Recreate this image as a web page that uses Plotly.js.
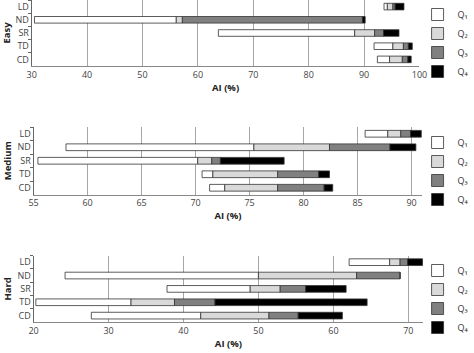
<!DOCTYPE html>
<html><head><meta charset="utf-8">
<script src="https://cdn.plot.ly/plotly-3.0.1.min.js"></script>
<style>html,body{margin:0;padding:0;background:#fff}#chart{width:474px;height:353px}</style>
</head><body><div id="chart"></div>
<script>
const categories = ['LD','ND','SR','TD','CD'];
const panels = ['Easy','Medium','Hard'];
const quartileNames = ['Q\u2081','Q\u2082','Q\u2083','Q\u2084'];
const quartileColors = ['#ffffff','#d9d9d9','#808080','#000000'];
const xTickStep = [10, 5, 10];
const xRanges = [[30, 100], [55, 91], [20, 72]];

// five-number bounds per category (LD, ND, SR, TD, CD): min, Q1, median, Q3, max
const easyMin = [93.6, 30.5, 63.7, 91.8, 92.4];
const easyQ1  = [94.2, 56.1, 88.3, 95.2, 94.6];
const easyMed = [95.2, 57.2, 91.9, 97.1, 96.9];
const easyQ3  = [95.6, 89.7, 93.5, 98.0, 97.9];
const easyMax = [97.2, 90.2, 96.3, 98.7, 98.5];

const mediumMin = [85.7, 58.0, 55.4, 70.6, 71.3];
const mediumQ1  = [87.8, 75.4, 70.2, 71.6, 72.7];
const mediumMed = [89.0, 82.4, 71.5, 77.6, 77.6];
const mediumQ3  = [89.9, 88.0, 72.3, 81.4, 81.9];
const mediumMax = [90.9, 90.4, 78.2, 82.4, 82.7];

const hardMin = [62.1, 24.2, 37.8, 20.3, 27.7];
const hardQ1  = [67.5, 50.0, 48.9, 33.0, 42.3];
const hardMed = [68.9, 63.1, 52.9, 38.8, 51.4];
const hardQ3  = [69.9, 68.9, 56.3, 44.2, 55.3];
const hardMax = [71.9, 68.9, 61.7, 64.5, 61.2];

const panelBounds = [
  [easyMin, easyQ1, easyMed, easyQ3, easyMax],
  [mediumMin, mediumQ1, mediumMed, mediumQ3, mediumMax],
  [hardMin, hardQ1, hardMed, hardQ3, hardMax]
];

const W = 474, H = 353;
const font = 'Open Sans, Lato, sans-serif';
const xDomPx = [[33, 437], [35, 440], [35, 441]];
const yDomPx = [[0, 66], [127, 194.5], [255.5, 322.3]];
const legendTop = [0, 128, 256];

const traces = [];
panelBounds.forEach((b, p) => {
  const sfx = p === 0 ? '' : String(p + 1);
  for (let q = 0; q < 4; q++) {
    traces.push({
      type: 'bar', orientation: 'h',
      y: categories,
      base: b[q],
      x: b[q + 1].map((v, i) => v - b[q][i]),
      xaxis: 'x' + sfx, yaxis: 'y' + sfx,
      legend: 'legend' + sfx,
      name: quartileNames[q],
      marker: {color: quartileColors[q], line: {color: '#333', width: 0.8}},
      hoverinfo: 'x+y'
    });
  }
});

const layout = {
  width: W, height: H,
  margin: {l: 0, r: 0, t: 0, b: 0},
  paper_bgcolor: '#fff', plot_bgcolor: '#fff',
  barmode: 'overlay', bargap: 0.5,
  showlegend: true,
  font: {family: font, size: 9, color: '#333'}
};
panels.forEach((name, p) => {
  const sfx = p === 0 ? '' : String(p + 1);
  layout['xaxis' + sfx] = {
    domain: [xDomPx[p][0] / W, xDomPx[p][1] / W],
    anchor: 'y' + sfx,
    range: xRanges[p], dtick: xTickStep[p], tick0: 0,
    showgrid: true, gridcolor: '#a6a6a6', gridwidth: 1,
    showline: true, linecolor: '#888', linewidth: 1,
    zeroline: false, ticks: '',
    tickfont: {family: font, size: 9, color: '#444'},
    title: {text: '<b>AI (%)</b>', font: {family: font, size: 9.5, color: '#222'}, standoff: 4}
  };
  layout['yaxis' + sfx] = {
    domain: [1 - yDomPx[p][1] / H, 1 - yDomPx[p][0] / H],
    anchor: 'x' + sfx,
    type: 'category', autorange: 'reversed',
    showgrid: false, zeroline: false,
    showline: true, linecolor: '#666', linewidth: 1,
    ticks: 'outside', tickson: 'boundaries', ticklen: 3, tickcolor: '#666',
    tickfont: {family: font, size: 9, color: '#444'},
    title: {text: '<b>' + name + '</b>', font: {family: font, size: 9.5, color: '#222'}, standoff: 4}
  };
  layout['legend' + sfx] = {
    x: 435 / W, xanchor: 'left',
    y: 1 - legendTop[p] / H, yanchor: 'top',
    bgcolor: 'rgba(0,0,0,0)', borderwidth: 0,
    traceorder: 'normal',
    font: {family: font, size: 9, color: '#333'}
  };
});

Plotly.newPlot('chart', traces, layout, {displayModeBar: false});
</script>
</body></html>
